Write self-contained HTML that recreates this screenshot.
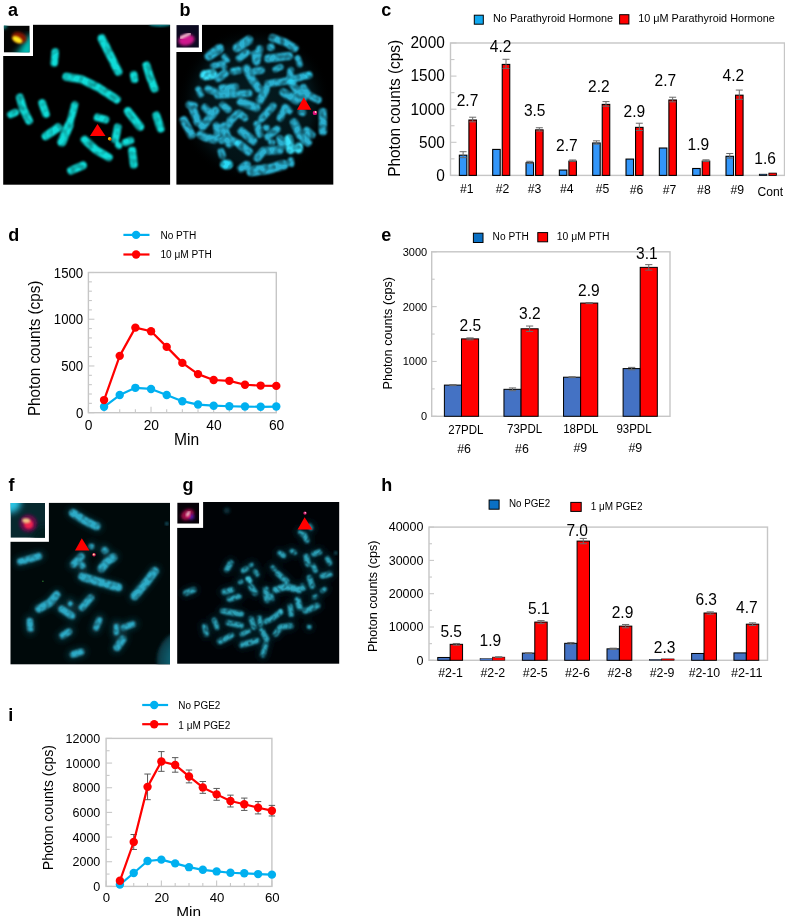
<!DOCTYPE html>
<html lang="en"><head><meta charset="utf-8"><title>Figure</title>
<style>
html,body{margin:0;padding:0;background:#fff;}
body{width:785px;height:916px;overflow:hidden;}
svg{display:block;font-family:"Liberation Sans", sans-serif;}
text{font-family:"Liberation Sans", sans-serif;}
</style></head><body>
<svg width="785" height="916" viewBox="0 0 785 916">
<rect width="785" height="916" fill="#fff"/>
<defs>
<filter id="b05" x="-50%" y="-50%" width="200%" height="200%"><feGaussianBlur stdDeviation="0.5"/></filter>
<filter id="ta" x="-5%" y="-5%" width="110%" height="110%" color-interpolation-filters="sRGB"><feGaussianBlur in="SourceGraphic" stdDeviation="1.15" result="bl"/><feTurbulence type="fractalNoise" baseFrequency="0.17" numOctaves="1" seed="2" result="n"/><feColorMatrix in="n" type="matrix" values="0 0 0 0 1  0 0 0 0 1  0 0 0 0 1  0.8 0 0 0 0.52" result="na"/><feComposite in="bl" in2="na" operator="in"/></filter>
<filter id="tb" x="-5%" y="-5%" width="110%" height="110%" color-interpolation-filters="sRGB"><feGaussianBlur in="SourceGraphic" stdDeviation="1.25" result="bl"/><feTurbulence type="fractalNoise" baseFrequency="0.2" numOctaves="1" seed="5" result="n"/><feColorMatrix in="n" type="matrix" values="0 0 0 0 1  0 0 0 0 1  0 0 0 0 1  1.2 0 0 0 0.3" result="na"/><feComposite in="bl" in2="na" operator="in"/></filter>
<filter id="tf" x="-5%" y="-5%" width="110%" height="110%" color-interpolation-filters="sRGB"><feGaussianBlur in="SourceGraphic" stdDeviation="1.0" result="bl"/><feTurbulence type="fractalNoise" baseFrequency="0.22" numOctaves="1" seed="7" result="n"/><feColorMatrix in="n" type="matrix" values="0 0 0 0 1  0 0 0 0 1  0 0 0 0 1  1.2 0 0 0 0.32" result="na"/><feComposite in="bl" in2="na" operator="in"/></filter>
<filter id="tg" x="-5%" y="-5%" width="110%" height="110%" color-interpolation-filters="sRGB"><feGaussianBlur in="SourceGraphic" stdDeviation="1.1" result="bl"/><feTurbulence type="fractalNoise" baseFrequency="0.24" numOctaves="1" seed="11" result="n"/><feColorMatrix in="n" type="matrix" values="0 0 0 0 1  0 0 0 0 1  0 0 0 0 1  1.6 0 0 0 0.12" result="na"/><feComposite in="bl" in2="na" operator="in"/></filter>
<filter id="b12" x="-5%" y="-5%" width="110%" height="110%"><feGaussianBlur stdDeviation="1.15"/></filter>
<filter id="b1" x="-5%" y="-5%" width="110%" height="110%"><feGaussianBlur stdDeviation="0.9"/></filter>
<filter id="b3" x="-10%" y="-10%" width="120%" height="120%"><feGaussianBlur stdDeviation="3"/></filter>
<filter id="b2" x="-30%" y="-30%" width="160%" height="160%"><feGaussianBlur stdDeviation="1.4"/></filter>
<radialGradient id="hazeb"><stop offset="0" stop-color="#083038" stop-opacity="0.6"/><stop offset="0.75" stop-color="#06262e" stop-opacity="0.5"/><stop offset="1" stop-color="#000" stop-opacity="0"/></radialGradient>
<radialGradient id="hazef"><stop offset="0" stop-color="#167488"/><stop offset="0.6" stop-color="#115a6a"/><stop offset="0.9" stop-color="#0c3e4a"/><stop offset="1" stop-color="#082830"/></radialGradient>
<radialGradient id="hazeg"><stop offset="0" stop-color="#082830" stop-opacity="0.7"/><stop offset="0.7" stop-color="#062028" stop-opacity="0.5"/><stop offset="1" stop-color="#000" stop-opacity="0"/></radialGradient>
</defs>
<clipPath id="cpa"><rect x="3.2" y="24.8" width="166.9" height="159.9"/></clipPath>
<rect x="3.2" y="24.8" width="166.9" height="159.9" fill="#000"/>
<g clip-path="url(#cpa)">
<g filter="url(#ta)">
<path d="M101.7 38.3 L110.0 55.0 L118.3 71.7" fill="none" stroke="#10dcd8" stroke-width="8.3" stroke-linecap="round" stroke-linejoin="round"/>
<path d="M55.2 52.1 L54.3 63.0" fill="none" stroke="#10dcd8" stroke-width="7.5" stroke-linecap="round" stroke-linejoin="round"/>
<path d="M66.4 76.8 L81.6 79.4 L98.4 87.7 L116.7 99.4" fill="none" stroke="#10dcd8" stroke-width="8.1" stroke-linecap="round" stroke-linejoin="round"/>
<path d="M133.7 74.9 L134.5 79.1" fill="none" stroke="#10dcd8" stroke-width="7.7" stroke-linecap="round" stroke-linejoin="round"/>
<path d="M146.4 65.4 L150.0 77.0 L154.5 88.6" fill="none" stroke="#10dcd8" stroke-width="7.9" stroke-linecap="round" stroke-linejoin="round"/>
<path d="M19.9 97.5 L23.2 109.1 L29.0 120.7" fill="none" stroke="#10dcd8" stroke-width="7.9" stroke-linecap="round" stroke-linejoin="round"/>
<path d="M10.6 114.8 L15.4 112.5" fill="none" stroke="#10dcd8" stroke-width="7.1000000000000005" stroke-linecap="round" stroke-linejoin="round"/>
<path d="M42.2 103.0 L45.9 114.1" fill="none" stroke="#10dcd8" stroke-width="7.7" stroke-linecap="round" stroke-linejoin="round"/>
<path d="M74.7 104.9 L70.0 122.5" fill="none" stroke="#10dcd8" stroke-width="7.300000000000001" stroke-linecap="round" stroke-linejoin="round"/>
<path d="M69.0 125.3 L61.8 142.0" fill="none" stroke="#10dcd8" stroke-width="9.1" stroke-linecap="round" stroke-linejoin="round"/>
<path d="M45.7 136.1 L58.2 127.5" fill="none" stroke="#10dcd8" stroke-width="8.3" stroke-linecap="round" stroke-linejoin="round"/>
<path d="M97.4 117.4 L105.6 119.6" fill="none" stroke="#10dcd8" stroke-width="7.5" stroke-linecap="round" stroke-linejoin="round"/>
<path d="M127.9 111.2 L140.1 126.8" fill="none" stroke="#10dcd8" stroke-width="8.3" stroke-linecap="round" stroke-linejoin="round"/>
<path d="M156.4 115.4 L160.6 128.6" fill="none" stroke="#10dcd8" stroke-width="7.9" stroke-linecap="round" stroke-linejoin="round"/>
<path d="M117.7 127.5 L115.3 139.5" fill="none" stroke="#10dcd8" stroke-width="7.7" stroke-linecap="round" stroke-linejoin="round"/>
<path d="M84.6 139.7 L96.0 150.0 L108.7 157.3" fill="none" stroke="#10dcd8" stroke-width="7.9" stroke-linecap="round" stroke-linejoin="round"/>
<path d="M125.4 142.5 L130.6 140.5" fill="none" stroke="#10dcd8" stroke-width="7.300000000000001" stroke-linecap="round" stroke-linejoin="round"/>
<path d="M132.2 150.5 L133.8 164.5" fill="none" stroke="#10dcd8" stroke-width="7.9" stroke-linecap="round" stroke-linejoin="round"/>
<path d="M71.0 170.6 L83.0 165.3" fill="none" stroke="#10dcd8" stroke-width="7.9" stroke-linecap="round" stroke-linejoin="round"/>
<path d="M118.1 145.1 L118.9 145.9" fill="none" stroke="#10dcd8" stroke-width="6.4" stroke-linecap="round" stroke-linejoin="round"/>
</g>
<ellipse cx="160" cy="24.2" rx="11" ry="2.6" fill="#0a8890" filter="url(#b1)"/>
<g filter="url(#b05)"><circle cx="109.6" cy="138.8" r="1.7" fill="#ffb400"/><circle cx="110.6" cy="139.4" r="1" fill="#e04800"/></g>
<polygon points="97.5,124.0 90.0,136.0 105.5,136.0" fill="#ff0000"/>
</g>
<rect x="2.00" y="23.00" width="31.00" height="33.00" fill="#fff"/>
<clipPath id="cpia"><rect x="3.8" y="25.6" width="25.9" height="27.0"/></clipPath>
<g clip-path="url(#cpia)"><rect x="3.8" y="25.6" width="25.9" height="27.0" fill="#040504"/>
<g filter="url(#b3)"><path d="M33 34 L33 56 L12 56 Q23 50 26 37 Z" fill="#00c8c0"/></g>
<g filter="url(#b2)"><circle cx="4" cy="26" r="3.2" fill="#0a7070"/><ellipse cx="19.3" cy="37.6" rx="7.6" ry="5.2" fill="#8a1600" transform="rotate(20 19.3 37.6)"/></g>
<g filter="url(#b1)"><ellipse cx="17.3" cy="39.7" rx="5.4" ry="3.0" fill="#ffe81c" transform="rotate(27 17.3 39.7)"/></g></g>
<text x="8.00" y="16.00" font-size="18" text-anchor="start" font-weight="bold">a</text>
<clipPath id="cpb"><rect x="176.4" y="24.9" width="156.9" height="159.7"/></clipPath>
<rect x="176.4" y="24.9" width="156.9" height="159.7" fill="#000"/>
<g clip-path="url(#cpb)">
<circle cx="254" cy="104" r="78" fill="url(#hazeb)"/>
<g filter="url(#tb)">
<path d="M272.4 37.9 L285.3 42.4 L294.8 48.3" fill="none" stroke="#2ab0d0" stroke-width="7.5" stroke-linecap="round" stroke-linejoin="round"/>
<path d="M270.8 47.3 L270.9 47.3" fill="none" stroke="#2ab0d0" stroke-width="7.5" stroke-linecap="round" stroke-linejoin="round"/>
<path d="M268.2 58.5 L288.9 56.0" fill="none" stroke="#2ab0d0" stroke-width="8.0" stroke-linecap="round" stroke-linejoin="round"/>
<path d="M297.6 58.1 L299.8 64.2" fill="none" stroke="#2ab0d0" stroke-width="6.0" stroke-linecap="round" stroke-linejoin="round"/>
<path d="M259.6 48.7 L256.7 62.1" fill="none" stroke="#2ab0d0" stroke-width="7.0" stroke-linecap="round" stroke-linejoin="round"/>
<path d="M290.9 81.5 L298.9 94.1 L302.7 98.8" fill="none" stroke="#2ab0d0" stroke-width="7.5" stroke-linecap="round" stroke-linejoin="round"/>
<path d="M303.4 87.3 L308.3 95.1 L318.3 100.0" fill="none" stroke="#2ab0d0" stroke-width="7.0" stroke-linecap="round" stroke-linejoin="round"/>
<path d="M192.0 106.7 L197.8 122.2" fill="none" stroke="#2ab0d0" stroke-width="8.0" stroke-linecap="round" stroke-linejoin="round"/>
<path d="M183.7 120.2 L191.5 134.8" fill="none" stroke="#2ab0d0" stroke-width="8.0" stroke-linecap="round" stroke-linejoin="round"/>
<path d="M204.7 107.5 L212.3 115.1" fill="none" stroke="#2ab0d0" stroke-width="7.0" stroke-linecap="round" stroke-linejoin="round"/>
<path d="M215.4 110.8 L202.6 126.5" fill="none" stroke="#2ab0d0" stroke-width="8.0" stroke-linecap="round" stroke-linejoin="round"/>
<path d="M216.4 125.5 L217.8 133.7" fill="none" stroke="#2ab0d0" stroke-width="7.0" stroke-linecap="round" stroke-linejoin="round"/>
<path d="M200.6 134.6 L205.3 137.4 L214.1 139.4" fill="none" stroke="#2ab0d0" stroke-width="8.0" stroke-linecap="round" stroke-linejoin="round"/>
<path d="M239.3 144.1 L248.7 151.7" fill="none" stroke="#2ab0d0" stroke-width="8.0" stroke-linecap="round" stroke-linejoin="round"/>
<path d="M221.2 151.6 L222.4 155.6" fill="none" stroke="#2ab0d0" stroke-width="7.0" stroke-linecap="round" stroke-linejoin="round"/>
<path d="M241.4 168.5 L246.6 164.9" fill="none" stroke="#2ab0d0" stroke-width="8.0" stroke-linecap="round" stroke-linejoin="round"/>
<path d="M250.9 171.8 L255.4 171.0" fill="none" stroke="#2ab0d0" stroke-width="9.0" stroke-linecap="round" stroke-linejoin="round"/>
<path d="M322.9 111.9 L322.9 131.6" fill="none" stroke="#2ab0d0" stroke-width="8.0" stroke-linecap="round" stroke-linejoin="round"/>
<path d="M294.0 122.3 L300.0 135.3 L307.9 142.3" fill="none" stroke="#2ab0d0" stroke-width="8.0" stroke-linecap="round" stroke-linejoin="round"/>
<path d="M306.7 130.5 L312.0 134.9" fill="none" stroke="#2ab0d0" stroke-width="7.0" stroke-linecap="round" stroke-linejoin="round"/>
<path d="M298.9 146.4 L298.9 149.4" fill="none" stroke="#38e0fa" stroke-width="8.0" stroke-linecap="round" stroke-linejoin="round"/>
<path d="M301.5 112.1 L302.6 112.6" fill="none" stroke="#2ab0d0" stroke-width="7.0" stroke-linecap="round" stroke-linejoin="round"/>
<path d="M257.5 157.8 L263.4 151.0 L279.5 150.0" fill="none" stroke="#2ab0d0" stroke-width="8.0" stroke-linecap="round" stroke-linejoin="round"/>
<path d="M254.6 170.8 L269.7 168.8 L283.7 164.8" fill="none" stroke="#2ab0d0" stroke-width="10.0" stroke-linecap="round" stroke-linejoin="round"/>
<path d="M290.7 160.0 L291.5 164.0" fill="none" stroke="#2ab0d0" stroke-width="6.0" stroke-linecap="round" stroke-linejoin="round"/>
<path d="M237.2 47.8 L248.7 40.1" fill="none" stroke="#2ab0d0" stroke-width="9.0" stroke-linecap="round" stroke-linejoin="round"/>
<path d="M239.3 58.2 L246.6 52.7" fill="none" stroke="#2ab0d0" stroke-width="7.0" stroke-linecap="round" stroke-linejoin="round"/>
<path d="M209.0 56.1 L219.5 48.5" fill="none" stroke="#2ab0d0" stroke-width="9.0" stroke-linecap="round" stroke-linejoin="round"/>
<path d="M224.5 57.0 L226.9 60.2" fill="none" stroke="#2ab0d0" stroke-width="6.0" stroke-linecap="round" stroke-linejoin="round"/>
<path d="M213.3 65.8 L223.1 63.8 L223.9 66.3" fill="none" stroke="#2ab0d0" stroke-width="6.0" stroke-linecap="round" stroke-linejoin="round"/>
<path d="M204.9 75.2 L212.1 74.3" fill="none" stroke="#38e0fa" stroke-width="10.0" stroke-linecap="round" stroke-linejoin="round"/>
<path d="M198.3 89.4 L200.9 94.6" fill="none" stroke="#2ab0d0" stroke-width="6.0" stroke-linecap="round" stroke-linejoin="round"/>
<path d="M208.0 89.1 L215.2 91.8" fill="none" stroke="#2ab0d0" stroke-width="7.0" stroke-linecap="round" stroke-linejoin="round"/>
<path d="M189.2 104.6 L194.3 105.9" fill="none" stroke="#2ab0d0" stroke-width="7.0" stroke-linecap="round" stroke-linejoin="round"/>
<path d="M254.5 53.9 L255.9 61.1" fill="none" stroke="#2ab0d0" stroke-width="7.0" stroke-linecap="round" stroke-linejoin="round"/>
<path d="M246.6 68.6 L251.6 78.6 L258.6 88.5" fill="none" stroke="#2ab0d0" stroke-width="8.0" stroke-linecap="round" stroke-linejoin="round"/>
<path d="M255.3 71.2 L261.4 70.3" fill="none" stroke="#2ab0d0" stroke-width="7.0" stroke-linecap="round" stroke-linejoin="round"/>
<path d="M233.4 71.2 L238.4 70.3" fill="none" stroke="#2ab0d0" stroke-width="7.0" stroke-linecap="round" stroke-linejoin="round"/>
<path d="M267.8 83.7 L287.5 80.8" fill="none" stroke="#2ab0d0" stroke-width="7.0" stroke-linecap="round" stroke-linejoin="round"/>
<path d="M265.9 89.5 L260.2 100.0" fill="none" stroke="#2ab0d0" stroke-width="8.0" stroke-linecap="round" stroke-linejoin="round"/>
<path d="M221.9 88.0 L235.3 86.9" fill="none" stroke="#2ab0d0" stroke-width="7.0" stroke-linecap="round" stroke-linejoin="round"/>
<path d="M217.7 95.3 L248.9 93.2" fill="none" stroke="#2ab0d0" stroke-width="7.0" stroke-linecap="round" stroke-linejoin="round"/>
<path d="M283.4 92.5 L296.5 100.2" fill="none" stroke="#2ab0d0" stroke-width="8.0" stroke-linecap="round" stroke-linejoin="round"/>
<path d="M240.7 101.8 L256.2 107.6" fill="none" stroke="#2ab0d0" stroke-width="8.0" stroke-linecap="round" stroke-linejoin="round"/>
<path d="M222.8 105.1 L228.1 109.5" fill="none" stroke="#2ab0d0" stroke-width="7.0" stroke-linecap="round" stroke-linejoin="round"/>
<path d="M239.5 113.5 L244.8 117.9" fill="none" stroke="#2ab0d0" stroke-width="7.0" stroke-linecap="round" stroke-linejoin="round"/>
<path d="M230.5 119.9 L228.8 125.0" fill="none" stroke="#2ab0d0" stroke-width="7.0" stroke-linecap="round" stroke-linejoin="round"/>
<path d="M273.1 106.1 L261.4 118.9" fill="none" stroke="#2ab0d0" stroke-width="7.0" stroke-linecap="round" stroke-linejoin="round"/>
<path d="M285.7 107.3 L280.1 117.8" fill="none" stroke="#2ab0d0" stroke-width="7.0" stroke-linecap="round" stroke-linejoin="round"/>
<path d="M257.0 124.1 L259.7 134.4" fill="none" stroke="#2ab0d0" stroke-width="7.0" stroke-linecap="round" stroke-linejoin="round"/>
<path d="M266.3 127.8 L266.3 127.8" fill="none" stroke="#2ab0d0" stroke-width="6.5" stroke-linecap="round" stroke-linejoin="round"/>
<path d="M277.2 129.1 L267.7 136.7" fill="none" stroke="#2ab0d0" stroke-width="7.0" stroke-linecap="round" stroke-linejoin="round"/>
<path d="M241.6 131.2 L253.2 140.9" fill="none" stroke="#2ab0d0" stroke-width="8.0" stroke-linecap="round" stroke-linejoin="round"/>
<path d="M223.6 126.2 L229.4 143.8" fill="none" stroke="#2ab0d0" stroke-width="8.0" stroke-linecap="round" stroke-linejoin="round"/>
<path d="M288.7 138.7 L290.5 149.9" fill="none" stroke="#38e0fa" stroke-width="8.5" stroke-linecap="round" stroke-linejoin="round"/>
<path d="M279.9 138.7 L281.8 145.9" fill="none" stroke="#2ab0d0" stroke-width="7.0" stroke-linecap="round" stroke-linejoin="round"/>
<path d="M275.5 69.3 L280.6 67.1" fill="none" stroke="#2ab0d0" stroke-width="6.0" stroke-linecap="round" stroke-linejoin="round"/>
<path d="M290.6 70.6 L290.0 77.8" fill="none" stroke="#2ab0d0" stroke-width="6.5" stroke-linecap="round" stroke-linejoin="round"/>
<path d="M288.7 80.5 L308.8 75.0" fill="none" stroke="#2ab0d0" stroke-width="7.5" stroke-linecap="round" stroke-linejoin="round"/>
<path d="M237.1 113.9 L231.9 119.6" fill="none" stroke="#2ab0d0" stroke-width="7.0" stroke-linecap="round" stroke-linejoin="round"/>
<path d="M221.6 140.4 L228.3 138.5 L238.3 143.4" fill="none" stroke="#2ab0d0" stroke-width="7.0" stroke-linecap="round" stroke-linejoin="round"/>
<path d="M271.2 141.9 L272.3 142.4" fill="none" stroke="#2ab0d0" stroke-width="6.0" stroke-linecap="round" stroke-linejoin="round"/>
<path d="M218.4 78.1 L224.7 73.5" fill="none" stroke="#2ab0d0" stroke-width="8.0" stroke-linecap="round" stroke-linejoin="round"/>
<path d="M284.8 107.5 L289.0 110.9" fill="none" stroke="#2ab0d0" stroke-width="7.0" stroke-linecap="round" stroke-linejoin="round"/>
<ellipse cx="226.5" cy="164.6" rx="6.5" ry="5" fill="#28d8f4"/>
<circle cx="235.5" cy="70" r="2" fill="#30e0ff"/><circle cx="278" cy="68" r="2" fill="#30e0ff"/><circle cx="308" cy="75" r="3" fill="#28c8e8"/><circle cx="291" cy="81" r="3" fill="#28d0f0"/><circle cx="237" cy="143" r="2.2" fill="#30e0ff"/>
</g>
<g filter="url(#b05)"><circle cx="314.9" cy="112.9" r="2.2" fill="#e0107a"/><circle cx="315.6" cy="112" r="0.9" fill="#ffd0c0"/></g>
<polygon points="303.8,97.3 297.0,109.8 311.4,109.8" fill="#ff0000"/>
</g>
<rect x="175.00" y="23.00" width="27.00" height="29.00" fill="#fff"/>
<clipPath id="cpib"><rect x="176.3" y="25.1" width="22.6" height="22.6"/></clipPath>
<g clip-path="url(#cpib)"><rect x="176.3" y="25.1" width="22.6" height="22.6" fill="#0c0a20"/>
<g filter="url(#b2)"><ellipse cx="186.5" cy="40" rx="8.2" ry="5.4" fill="#d0128e" transform="rotate(-12 186.5 40)"/></g>
<g filter="url(#b1)"><path d="M180.6 37.8 L190.4 33.4" stroke="#ffd0dc" stroke-width="2.6" stroke-linecap="round"/></g></g>
<text x="179.40" y="16.00" font-size="18" text-anchor="start" font-weight="bold">b</text>
<rect x="450.50" y="43.00" width="334.00" height="132.40" fill="#fff" stroke="#c6c6c6" stroke-width="1.4"/>
<line x1="450.50" y1="175.40" x2="456.50" y2="175.40" stroke="#c8c8c8" stroke-width="1.1"/>
<line x1="450.50" y1="158.85" x2="454.50" y2="158.85" stroke="#c8c8c8" stroke-width="1.1"/>
<line x1="450.50" y1="142.30" x2="456.50" y2="142.30" stroke="#c8c8c8" stroke-width="1.1"/>
<line x1="450.50" y1="125.75" x2="454.50" y2="125.75" stroke="#c8c8c8" stroke-width="1.1"/>
<line x1="450.50" y1="109.20" x2="456.50" y2="109.20" stroke="#c8c8c8" stroke-width="1.1"/>
<line x1="450.50" y1="92.65" x2="454.50" y2="92.65" stroke="#c8c8c8" stroke-width="1.1"/>
<line x1="450.50" y1="76.10" x2="456.50" y2="76.10" stroke="#c8c8c8" stroke-width="1.1"/>
<line x1="450.50" y1="59.55" x2="454.50" y2="59.55" stroke="#c8c8c8" stroke-width="1.1"/>
<line x1="450.50" y1="43.00" x2="456.50" y2="43.00" stroke="#c8c8c8" stroke-width="1.1"/>
<text x="444.80" y="180.70" font-size="16.32" text-anchor="end" textLength="8.6" lengthAdjust="spacingAndGlyphs">0</text>
<text x="444.80" y="147.60" font-size="16.32" text-anchor="end" textLength="25.7" lengthAdjust="spacingAndGlyphs">500</text>
<text x="444.80" y="114.50" font-size="16.32" text-anchor="end" textLength="34.3" lengthAdjust="spacingAndGlyphs">1000</text>
<text x="444.80" y="81.40" font-size="16.32" text-anchor="end" textLength="34.3" lengthAdjust="spacingAndGlyphs">1500</text>
<text x="444.80" y="48.30" font-size="16.32" text-anchor="end" textLength="34.3" lengthAdjust="spacingAndGlyphs">2000</text>
<text x="399.60" y="108.30" font-size="16.6" text-anchor="middle" textLength="137.0" lengthAdjust="spacingAndGlyphs" transform="rotate(-90 399.60 108.30)">Photon counts (cps)</text>
<rect x="459.37" y="155.18" width="7.50" height="20.22" fill="#3296fa" stroke="#000" stroke-width="1.1"/>
<rect x="468.92" y="120.03" width="7.50" height="55.37" fill="#ff0000" stroke="#000" stroke-width="1.1"/>
<path d="M463.12 151.70V157.66M459.62 151.70H466.62M459.62 157.66H466.62" stroke="#6a6a6a" stroke-width="1.0" fill="none"/>
<path d="M472.67 117.21V121.84M469.17 117.21H476.17M469.17 121.84H476.17" stroke="#6a6a6a" stroke-width="1.0" fill="none"/>
<text x="467.50" y="106.10" font-size="17" text-anchor="middle" textLength="21.6" lengthAdjust="spacingAndGlyphs">2.7</text>
<text x="466.70" y="193.40" font-size="12.8" text-anchor="middle" textLength="13.6" lengthAdjust="spacingAndGlyphs">#1</text>
<rect x="492.69" y="149.42" width="7.50" height="25.98" fill="#3296fa" stroke="#000" stroke-width="1.1"/>
<rect x="502.25" y="64.42" width="7.50" height="110.98" fill="#ff0000" stroke="#000" stroke-width="1.1"/>
<path d="M506.00 59.29V68.55M502.50 59.29H509.50M502.50 68.55H509.50" stroke="#6a6a6a" stroke-width="1.0" fill="none"/>
<text x="500.60" y="52.20" font-size="17" text-anchor="middle" textLength="21.6" lengthAdjust="spacingAndGlyphs">4.2</text>
<text x="502.50" y="192.50" font-size="12.8" text-anchor="middle" textLength="13.6" lengthAdjust="spacingAndGlyphs">#2</text>
<rect x="526.03" y="162.79" width="7.50" height="12.61" fill="#3296fa" stroke="#000" stroke-width="1.1"/>
<rect x="535.58" y="129.89" width="7.50" height="45.51" fill="#ff0000" stroke="#000" stroke-width="1.1"/>
<path d="M529.78 161.30V163.29M526.28 161.30H533.28M526.28 163.29H533.28" stroke="#6a6a6a" stroke-width="1.0" fill="none"/>
<path d="M539.33 127.74V131.05M535.83 127.74H542.83M535.83 131.05H542.83" stroke="#6a6a6a" stroke-width="1.0" fill="none"/>
<text x="534.70" y="116.00" font-size="17" text-anchor="middle" textLength="21.6" lengthAdjust="spacingAndGlyphs">3.5</text>
<text x="534.60" y="192.50" font-size="12.8" text-anchor="middle" textLength="13.6" lengthAdjust="spacingAndGlyphs">#3</text>
<rect x="559.36" y="170.07" width="7.50" height="5.33" fill="#3296fa" stroke="#000" stroke-width="1.1"/>
<rect x="568.90" y="161.14" width="7.50" height="14.26" fill="#ff0000" stroke="#000" stroke-width="1.1"/>
<path d="M572.65 159.98V161.30M569.15 159.98H576.15M569.15 161.30H576.15" stroke="#6a6a6a" stroke-width="1.0" fill="none"/>
<text x="566.80" y="150.80" font-size="17" text-anchor="middle" textLength="21.6" lengthAdjust="spacingAndGlyphs">2.7</text>
<text x="566.70" y="192.50" font-size="12.8" text-anchor="middle" textLength="13.6" lengthAdjust="spacingAndGlyphs">#4</text>
<rect x="592.69" y="143.00" width="7.50" height="32.40" fill="#3296fa" stroke="#000" stroke-width="1.1"/>
<rect x="602.24" y="104.40" width="7.50" height="71.00" fill="#ff0000" stroke="#000" stroke-width="1.1"/>
<path d="M596.44 140.84V144.15M592.94 140.84H599.94M592.94 144.15H599.94" stroke="#6a6a6a" stroke-width="1.0" fill="none"/>
<path d="M605.99 101.59V106.22M602.49 101.59H609.49M602.49 106.22H609.49" stroke="#6a6a6a" stroke-width="1.0" fill="none"/>
<text x="598.90" y="91.50" font-size="17" text-anchor="middle" textLength="21.6" lengthAdjust="spacingAndGlyphs">2.2</text>
<text x="602.60" y="193.40" font-size="12.8" text-anchor="middle" textLength="13.6" lengthAdjust="spacingAndGlyphs">#5</text>
<rect x="626.02" y="159.09" width="7.50" height="16.31" fill="#3296fa" stroke="#000" stroke-width="1.1"/>
<rect x="635.57" y="127.38" width="7.50" height="48.02" fill="#ff0000" stroke="#000" stroke-width="1.1"/>
<path d="M639.32 123.23V130.52M635.82 123.23H642.82M635.82 130.52H642.82" stroke="#6a6a6a" stroke-width="1.0" fill="none"/>
<text x="634.40" y="117.40" font-size="17" text-anchor="middle" textLength="21.6" lengthAdjust="spacingAndGlyphs">2.9</text>
<text x="636.60" y="193.50" font-size="12.8" text-anchor="middle" textLength="13.6" lengthAdjust="spacingAndGlyphs">#6</text>
<rect x="659.35" y="148.03" width="7.50" height="27.37" fill="#3296fa" stroke="#000" stroke-width="1.1"/>
<rect x="668.89" y="100.03" width="7.50" height="75.37" fill="#ff0000" stroke="#000" stroke-width="1.1"/>
<path d="M672.64 97.22V101.85M669.14 97.22H676.14M669.14 101.85H676.14" stroke="#6a6a6a" stroke-width="1.0" fill="none"/>
<text x="665.30" y="86.40" font-size="17" text-anchor="middle" textLength="21.6" lengthAdjust="spacingAndGlyphs">2.7</text>
<text x="669.50" y="193.50" font-size="12.8" text-anchor="middle" textLength="13.6" lengthAdjust="spacingAndGlyphs">#7</text>
<rect x="692.68" y="168.49" width="7.50" height="6.91" fill="#3296fa" stroke="#000" stroke-width="1.1"/>
<rect x="702.23" y="161.14" width="7.50" height="14.26" fill="#ff0000" stroke="#000" stroke-width="1.1"/>
<path d="M705.98 159.84V161.43M702.48 159.84H709.48M702.48 161.43H709.48" stroke="#6a6a6a" stroke-width="1.0" fill="none"/>
<text x="698.30" y="149.70" font-size="17" text-anchor="middle" textLength="21.6" lengthAdjust="spacingAndGlyphs">1.9</text>
<text x="703.90" y="193.50" font-size="12.8" text-anchor="middle" textLength="13.6" lengthAdjust="spacingAndGlyphs">#8</text>
<rect x="726.01" y="156.30" width="7.50" height="19.10" fill="#3296fa" stroke="#000" stroke-width="1.1"/>
<rect x="735.56" y="95.20" width="7.50" height="80.20" fill="#ff0000" stroke="#000" stroke-width="1.1"/>
<path d="M729.76 153.49V158.12M726.26 153.49H733.26M726.26 158.12H733.26" stroke="#6a6a6a" stroke-width="1.0" fill="none"/>
<path d="M739.31 90.07V99.34M735.81 90.07H742.81M735.81 99.34H742.81" stroke="#6a6a6a" stroke-width="1.0" fill="none"/>
<text x="733.40" y="80.90" font-size="17" text-anchor="middle" textLength="21.6" lengthAdjust="spacingAndGlyphs">4.2</text>
<text x="737.30" y="193.60" font-size="12.8" text-anchor="middle" textLength="13.6" lengthAdjust="spacingAndGlyphs">#9</text>
<rect x="759.34" y="174.25" width="7.50" height="1.16" fill="#3296fa" stroke="#000" stroke-width="0.8"/>
<rect x="768.88" y="173.12" width="7.50" height="2.28" fill="#ff0000" stroke="#000" stroke-width="0.8"/>
<text x="765.10" y="163.70" font-size="17" text-anchor="middle" textLength="21.6" lengthAdjust="spacingAndGlyphs">1.6</text>
<text x="770.30" y="195.80" font-size="12.5" text-anchor="middle" textLength="25.5" lengthAdjust="spacingAndGlyphs">Cont</text>
<rect x="474.30" y="15.20" width="9.00" height="9.00" fill="#10a8f0" stroke="#000" stroke-width="1.0"/>
<text x="493.00" y="22.30" font-size="11.3" text-anchor="start" textLength="120.0" lengthAdjust="spacingAndGlyphs">No Parathyroid Hormone</text>
<rect x="619.60" y="14.70" width="9.30" height="9.30" fill="#ff0000" stroke="#000" stroke-width="1.0"/>
<text x="638.20" y="22.30" font-size="11.3" text-anchor="start" textLength="136.6" lengthAdjust="spacingAndGlyphs">10 μM Parathyroid Hormone</text>
<text x="381.30" y="16.10" font-size="18" text-anchor="start" font-weight="bold">c</text>
<rect x="88.40" y="272.50" width="187.90" height="140.20" fill="#fff" stroke="#c6c6c6" stroke-width="1.4"/>
<line x1="88.40" y1="412.70" x2="94.40" y2="412.70" stroke="#c8c8c8" stroke-width="1.1"/>
<line x1="88.40" y1="403.35" x2="91.90" y2="403.35" stroke="#c8c8c8" stroke-width="1.1"/>
<line x1="88.40" y1="394.01" x2="91.90" y2="394.01" stroke="#c8c8c8" stroke-width="1.1"/>
<line x1="88.40" y1="384.66" x2="91.90" y2="384.66" stroke="#c8c8c8" stroke-width="1.1"/>
<line x1="88.40" y1="375.31" x2="91.90" y2="375.31" stroke="#c8c8c8" stroke-width="1.1"/>
<line x1="88.40" y1="365.97" x2="94.40" y2="365.97" stroke="#c8c8c8" stroke-width="1.1"/>
<line x1="88.40" y1="356.62" x2="91.90" y2="356.62" stroke="#c8c8c8" stroke-width="1.1"/>
<line x1="88.40" y1="347.27" x2="91.90" y2="347.27" stroke="#c8c8c8" stroke-width="1.1"/>
<line x1="88.40" y1="337.93" x2="91.90" y2="337.93" stroke="#c8c8c8" stroke-width="1.1"/>
<line x1="88.40" y1="328.58" x2="91.90" y2="328.58" stroke="#c8c8c8" stroke-width="1.1"/>
<line x1="88.40" y1="319.23" x2="94.40" y2="319.23" stroke="#c8c8c8" stroke-width="1.1"/>
<line x1="88.40" y1="309.89" x2="91.90" y2="309.89" stroke="#c8c8c8" stroke-width="1.1"/>
<line x1="88.40" y1="300.54" x2="91.90" y2="300.54" stroke="#c8c8c8" stroke-width="1.1"/>
<line x1="88.40" y1="291.19" x2="91.90" y2="291.19" stroke="#c8c8c8" stroke-width="1.1"/>
<line x1="88.40" y1="281.85" x2="91.90" y2="281.85" stroke="#c8c8c8" stroke-width="1.1"/>
<line x1="88.40" y1="272.50" x2="94.40" y2="272.50" stroke="#c8c8c8" stroke-width="1.1"/>
<line x1="88.40" y1="412.70" x2="88.40" y2="406.70" stroke="#c8c8c8" stroke-width="1.1"/>
<line x1="104.06" y1="412.70" x2="104.06" y2="409.20" stroke="#c8c8c8" stroke-width="1.1"/>
<line x1="119.72" y1="412.70" x2="119.72" y2="409.20" stroke="#c8c8c8" stroke-width="1.1"/>
<line x1="135.38" y1="412.70" x2="135.38" y2="409.20" stroke="#c8c8c8" stroke-width="1.1"/>
<line x1="151.03" y1="412.70" x2="151.03" y2="406.70" stroke="#c8c8c8" stroke-width="1.1"/>
<line x1="166.69" y1="412.70" x2="166.69" y2="409.20" stroke="#c8c8c8" stroke-width="1.1"/>
<line x1="182.35" y1="412.70" x2="182.35" y2="409.20" stroke="#c8c8c8" stroke-width="1.1"/>
<line x1="198.01" y1="412.70" x2="198.01" y2="409.20" stroke="#c8c8c8" stroke-width="1.1"/>
<line x1="213.67" y1="412.70" x2="213.67" y2="406.70" stroke="#c8c8c8" stroke-width="1.1"/>
<line x1="229.33" y1="412.70" x2="229.33" y2="409.20" stroke="#c8c8c8" stroke-width="1.1"/>
<line x1="244.98" y1="412.70" x2="244.98" y2="409.20" stroke="#c8c8c8" stroke-width="1.1"/>
<line x1="260.64" y1="412.70" x2="260.64" y2="409.20" stroke="#c8c8c8" stroke-width="1.1"/>
<line x1="276.30" y1="412.70" x2="276.30" y2="406.70" stroke="#c8c8c8" stroke-width="1.1"/>
<polyline points="104.06,406.81 119.72,395.03 135.38,387.84 151.03,388.96 166.69,395.03 182.35,401.20 198.01,404.57 213.67,405.69 229.33,406.25 244.98,406.53 260.64,406.81 276.30,406.53" fill="none" stroke="#00b0f0" stroke-width="2.2" stroke-linejoin="round"/>
<circle cx="104.06" cy="406.81" r="4.2" fill="#00b0f0"/>
<circle cx="119.72" cy="395.03" r="4.2" fill="#00b0f0"/>
<circle cx="135.38" cy="387.84" r="4.2" fill="#00b0f0"/>
<circle cx="151.03" cy="388.96" r="4.2" fill="#00b0f0"/>
<circle cx="166.69" cy="395.03" r="4.2" fill="#00b0f0"/>
<circle cx="182.35" cy="401.20" r="4.2" fill="#00b0f0"/>
<circle cx="198.01" cy="404.57" r="4.2" fill="#00b0f0"/>
<circle cx="213.67" cy="405.69" r="4.2" fill="#00b0f0"/>
<circle cx="229.33" cy="406.25" r="4.2" fill="#00b0f0"/>
<circle cx="244.98" cy="406.53" r="4.2" fill="#00b0f0"/>
<circle cx="260.64" cy="406.81" r="4.2" fill="#00b0f0"/>
<circle cx="276.30" cy="406.53" r="4.2" fill="#00b0f0"/>
<polyline points="104.06,400.08 119.72,355.87 135.38,327.65 151.03,331.29 166.69,346.90 182.35,362.88 198.01,374.10 213.67,379.99 229.33,380.83 244.98,384.75 260.64,385.59 276.30,385.88" fill="none" stroke="#ff0000" stroke-width="2.2" stroke-linejoin="round"/>
<circle cx="104.06" cy="400.08" r="4.2" fill="#ff0000"/>
<circle cx="119.72" cy="355.87" r="4.2" fill="#ff0000"/>
<circle cx="135.38" cy="327.65" r="4.2" fill="#ff0000"/>
<circle cx="151.03" cy="331.29" r="4.2" fill="#ff0000"/>
<circle cx="166.69" cy="346.90" r="4.2" fill="#ff0000"/>
<circle cx="182.35" cy="362.88" r="4.2" fill="#ff0000"/>
<circle cx="198.01" cy="374.10" r="4.2" fill="#ff0000"/>
<circle cx="213.67" cy="379.99" r="4.2" fill="#ff0000"/>
<circle cx="229.33" cy="380.83" r="4.2" fill="#ff0000"/>
<circle cx="244.98" cy="384.75" r="4.2" fill="#ff0000"/>
<circle cx="260.64" cy="385.59" r="4.2" fill="#ff0000"/>
<circle cx="276.30" cy="385.88" r="4.2" fill="#ff0000"/>
<text x="83.20" y="417.80" font-size="14.39" text-anchor="end" textLength="7.3" lengthAdjust="spacingAndGlyphs">0</text>
<text x="83.20" y="371.07" font-size="14.39" text-anchor="end" textLength="22.0" lengthAdjust="spacingAndGlyphs">500</text>
<text x="83.20" y="324.33" font-size="14.39" text-anchor="end" textLength="29.4" lengthAdjust="spacingAndGlyphs">1000</text>
<text x="83.20" y="277.60" font-size="14.39" text-anchor="end" textLength="29.4" lengthAdjust="spacingAndGlyphs">1500</text>
<text x="88.70" y="429.70" font-size="13.8" text-anchor="middle">0</text>
<text x="151.33" y="429.70" font-size="13.8" text-anchor="middle">20</text>
<text x="213.97" y="429.70" font-size="13.8" text-anchor="middle">40</text>
<text x="276.60" y="429.70" font-size="13.8" text-anchor="middle">60</text>
<text x="186.50" y="445.00" font-size="15.6" text-anchor="middle">Min</text>
<text x="40.00" y="348.40" font-size="16.0" text-anchor="middle" textLength="135.4" lengthAdjust="spacingAndGlyphs" transform="rotate(-90 40.00 348.40)">Photon counts (cps)</text>
<line x1="123.40" y1="234.90" x2="149.50" y2="234.90" stroke="#00b0f0" stroke-width="2.2"/>
<circle cx="136.10" cy="234.90" r="4.2" fill="#00b0f0"/>
<text x="160.40" y="238.50" font-size="10" text-anchor="start" textLength="35.9" lengthAdjust="spacingAndGlyphs">No PTH</text>
<line x1="123.40" y1="254.50" x2="149.50" y2="254.50" stroke="#ff0000" stroke-width="2.2"/>
<circle cx="136.10" cy="254.50" r="4.2" fill="#ff0000"/>
<text x="160.40" y="258.40" font-size="10" text-anchor="start" textLength="51.3" lengthAdjust="spacingAndGlyphs">10 μM PTH</text>
<text x="8.20" y="240.90" font-size="18" text-anchor="start" font-weight="bold">d</text>
<rect x="431.70" y="251.80" width="238.30" height="164.50" fill="#fff" stroke="#c6c6c6" stroke-width="1.4"/>
<line x1="431.70" y1="416.30" x2="436.70" y2="416.30" stroke="#c8c8c8" stroke-width="1.1"/>
<line x1="431.70" y1="388.88" x2="434.70" y2="388.88" stroke="#c8c8c8" stroke-width="1.1"/>
<line x1="431.70" y1="361.47" x2="436.70" y2="361.47" stroke="#c8c8c8" stroke-width="1.1"/>
<line x1="431.70" y1="334.05" x2="434.70" y2="334.05" stroke="#c8c8c8" stroke-width="1.1"/>
<line x1="431.70" y1="306.63" x2="436.70" y2="306.63" stroke="#c8c8c8" stroke-width="1.1"/>
<line x1="431.70" y1="279.22" x2="434.70" y2="279.22" stroke="#c8c8c8" stroke-width="1.1"/>
<line x1="431.70" y1="251.80" x2="436.70" y2="251.80" stroke="#c8c8c8" stroke-width="1.1"/>
<text x="427.20" y="420.30" font-size="11.77" text-anchor="end" textLength="6.1" lengthAdjust="spacingAndGlyphs">0</text>
<text x="427.20" y="365.47" font-size="11.77" text-anchor="end" textLength="24.5" lengthAdjust="spacingAndGlyphs">1000</text>
<text x="427.20" y="310.63" font-size="11.77" text-anchor="end" textLength="24.5" lengthAdjust="spacingAndGlyphs">2000</text>
<text x="427.20" y="255.80" font-size="11.77" text-anchor="end" textLength="24.5" lengthAdjust="spacingAndGlyphs">3000</text>
<text x="391.60" y="333.20" font-size="12.6" text-anchor="middle" textLength="112.6" lengthAdjust="spacingAndGlyphs" transform="rotate(-90 391.60 333.20)">Photon counts (cps)</text>
<rect x="444.39" y="385.10" width="17.10" height="31.20" fill="#4472c4" stroke="#000" stroke-width="1.0"/>
<rect x="461.49" y="338.88" width="17.10" height="77.42" fill="#ff0000" stroke="#000" stroke-width="1.0"/>
<path d="M452.94 384.55V385.65M449.34 384.55H456.54M449.34 385.65H456.54" stroke="#6a6a6a" stroke-width="1.0" fill="none"/>
<path d="M470.04 337.89V339.86M466.44 337.89H473.64M466.44 339.86H473.64" stroke="#6a6a6a" stroke-width="1.0" fill="none"/>
<text x="470.30" y="331.40" font-size="17" text-anchor="middle" textLength="21.6" lengthAdjust="spacingAndGlyphs">2.5</text>
<text x="465.90" y="433.80" font-size="12" text-anchor="middle" textLength="35.2" lengthAdjust="spacingAndGlyphs">27PDL</text>
<text x="464.10" y="453.20" font-size="12" text-anchor="middle" textLength="13.8" lengthAdjust="spacingAndGlyphs">#6</text>
<rect x="503.96" y="389.32" width="17.10" height="26.98" fill="#4472c4" stroke="#000" stroke-width="1.0"/>
<rect x="521.06" y="328.79" width="17.10" height="87.51" fill="#ff0000" stroke="#000" stroke-width="1.0"/>
<path d="M512.51 387.95V390.69M508.91 387.95H516.11M508.91 390.69H516.11" stroke="#6a6a6a" stroke-width="1.0" fill="none"/>
<path d="M529.61 326.04V331.53M526.01 326.04H533.21M526.01 331.53H533.21" stroke="#6a6a6a" stroke-width="1.0" fill="none"/>
<text x="529.80" y="318.70" font-size="17" text-anchor="middle" textLength="21.6" lengthAdjust="spacingAndGlyphs">3.2</text>
<text x="524.60" y="433.00" font-size="12" text-anchor="middle" textLength="35.2" lengthAdjust="spacingAndGlyphs">73PDL</text>
<text x="522.00" y="452.50" font-size="12" text-anchor="middle" textLength="13.8" lengthAdjust="spacingAndGlyphs">#6</text>
<rect x="563.54" y="377.20" width="17.10" height="39.10" fill="#4472c4" stroke="#000" stroke-width="1.0"/>
<rect x="580.64" y="303.07" width="17.10" height="113.23" fill="#ff0000" stroke="#000" stroke-width="1.0"/>
<path d="M572.09 376.77V377.64M568.49 376.77H575.69M568.49 377.64H575.69" stroke="#6a6a6a" stroke-width="1.0" fill="none"/>
<path d="M589.19 302.52V303.62M585.59 302.52H592.79M585.59 303.62H592.79" stroke="#6a6a6a" stroke-width="1.0" fill="none"/>
<text x="588.90" y="295.90" font-size="17" text-anchor="middle" textLength="21.6" lengthAdjust="spacingAndGlyphs">2.9</text>
<text x="580.80" y="433.20" font-size="12" text-anchor="middle" textLength="35.2" lengthAdjust="spacingAndGlyphs">18PDL</text>
<text x="580.30" y="452.20" font-size="12" text-anchor="middle" textLength="13.8" lengthAdjust="spacingAndGlyphs">#9</text>
<rect x="623.11" y="368.60" width="17.10" height="47.70" fill="#4472c4" stroke="#000" stroke-width="1.0"/>
<rect x="640.21" y="267.37" width="17.10" height="148.93" fill="#ff0000" stroke="#000" stroke-width="1.0"/>
<path d="M631.66 367.39V369.80M628.06 367.39H635.26M628.06 369.80H635.26" stroke="#6a6a6a" stroke-width="1.0" fill="none"/>
<path d="M648.76 264.63V270.11M645.16 264.63H652.36M645.16 270.11H652.36" stroke="#6a6a6a" stroke-width="1.0" fill="none"/>
<text x="646.80" y="258.50" font-size="17" text-anchor="middle" textLength="21.6" lengthAdjust="spacingAndGlyphs">3.1</text>
<text x="634.00" y="433.20" font-size="12" text-anchor="middle" textLength="35.2" lengthAdjust="spacingAndGlyphs">93PDL</text>
<text x="635.30" y="452.20" font-size="12" text-anchor="middle" textLength="13.8" lengthAdjust="spacingAndGlyphs">#9</text>
<rect x="473.40" y="233.20" width="9.60" height="9.30" fill="#0a70c4" stroke="#000" stroke-width="1.0"/>
<text x="492.60" y="240.20" font-size="10" text-anchor="start" textLength="36.2" lengthAdjust="spacingAndGlyphs">No PTH</text>
<rect x="537.80" y="232.60" width="9.80" height="9.20" fill="#ff0000" stroke="#000" stroke-width="1.0"/>
<text x="556.80" y="239.60" font-size="10" text-anchor="start" textLength="52.6" lengthAdjust="spacingAndGlyphs">10 μM PTH</text>
<text x="381.30" y="240.90" font-size="18" text-anchor="start" font-weight="bold">e</text>
<clipPath id="cpf"><rect x="10.5" y="502.9" width="159.5" height="161.4"/></clipPath>
<rect x="10.5" y="502.9" width="159.5" height="161.4" fill="#00090a"/>
<g clip-path="url(#cpf)">
<circle cx="187.5" cy="660" r="31" fill="url(#hazef)" filter="url(#b2)"/>
<circle cx="166.8" cy="523.7" r="2" fill="#0e4858" filter="url(#b1)"/>
<circle cx="42.9" cy="581.2" r="0.8" fill="#2c7a30" filter="url(#b05)"/>
<g filter="url(#b3)">
<path d="M71.9 512.4 L86.4 521.7 L97.7 526.8M19.3 561.9 L30.6 558.8 L39.9 555.7M91.5 546.4 l0.01 0M103.9 549.1 L106.0 551.6M100.8 569.1 L107.0 561.9 L114.2 556.7M72.9 565.0 L82.2 555.7M81.2 564.0 L83.3 567.1M81.2 576.4 L100.8 582.5 L119.4 587.7M133.8 597.0 L146.2 582.5 L155.5 570.2M37.9 609.4 L49.2 603.2 L57.5 593.9M60.6 608.3 L72.9 616.6M69.8 602.1 L70.9 605.2M81.2 608.3 L91.5 597.0M29.6 619.7 L30.6 630.0M95.6 629.0 L99.8 618.7M61.6 636.2 L69.8 631.0M116.3 624.8 L116.3 634.1M122.5 627.9 L133.8 623.8M116.3 648.6 L123.5 638.3M71.9 654.8 L82.2 651.7" fill="none" stroke="#0a3a44" stroke-width="9" stroke-linecap="round" stroke-linejoin="round"/>
</g>
<g filter="url(#tf)">
<path d="M73.1 513.1 L86.4 521.7 L96.4 526.2" fill="none" stroke="#2daac6" stroke-width="8" stroke-linecap="round" stroke-linejoin="round"/>
<path d="M20.6 561.5 L30.6 558.8 L38.6 556.2" fill="none" stroke="#2daac6" stroke-width="6.8" stroke-linecap="round" stroke-linejoin="round"/>
<path d="M91.5 546.4 l0.01 0" fill="none" stroke="#2daac6" stroke-width="5.5" stroke-linecap="round" stroke-linejoin="round"/>
<path d="M104.8 550.2 L105.1 550.5" fill="none" stroke="#2daac6" stroke-width="6.5" stroke-linecap="round" stroke-linejoin="round"/>
<path d="M101.7 568.1 L107.0 561.9 L113.1 557.6" fill="none" stroke="#2daac6" stroke-width="8" stroke-linecap="round" stroke-linejoin="round"/>
<path d="M73.9 564.0 L81.2 556.7" fill="none" stroke="#2daac6" stroke-width="6.8" stroke-linecap="round" stroke-linejoin="round"/>
<path d="M82.0 565.1 L82.5 565.9" fill="none" stroke="#2daac6" stroke-width="6" stroke-linecap="round" stroke-linejoin="round"/>
<path d="M82.5 576.8 L100.8 582.5 L118.0 587.3" fill="none" stroke="#2daac6" stroke-width="8.2" stroke-linecap="round" stroke-linejoin="round"/>
<path d="M134.7 595.9 L146.2 582.5 L154.6 571.3" fill="none" stroke="#2daac6" stroke-width="8.2" stroke-linecap="round" stroke-linejoin="round"/>
<path d="M39.1 608.7 L49.2 603.2 L56.5 594.9" fill="none" stroke="#2daac6" stroke-width="7.6" stroke-linecap="round" stroke-linejoin="round"/>
<path d="M61.7 609.1 L71.8 615.8" fill="none" stroke="#2daac6" stroke-width="6.8" stroke-linecap="round" stroke-linejoin="round"/>
<path d="M70.3 603.5 L70.4 603.9" fill="none" stroke="#2daac6" stroke-width="5" stroke-linecap="round" stroke-linejoin="round"/>
<path d="M82.1 607.3 L90.6 598.0" fill="none" stroke="#2daac6" stroke-width="6.8" stroke-linecap="round" stroke-linejoin="round"/>
<path d="M29.7 621.1 L30.5 628.6" fill="none" stroke="#2daac6" stroke-width="6.4" stroke-linecap="round" stroke-linejoin="round"/>
<path d="M96.2 627.7 L99.2 620.0" fill="none" stroke="#2daac6" stroke-width="6" stroke-linecap="round" stroke-linejoin="round"/>
<path d="M62.8 635.5 L68.7 631.8" fill="none" stroke="#2daac6" stroke-width="6.4" stroke-linecap="round" stroke-linejoin="round"/>
<path d="M116.3 626.2 L116.3 632.7" fill="none" stroke="#2daac6" stroke-width="5" stroke-linecap="round" stroke-linejoin="round"/>
<path d="M123.8 627.5 L132.5 624.3" fill="none" stroke="#2daac6" stroke-width="6" stroke-linecap="round" stroke-linejoin="round"/>
<path d="M117.1 647.4 L122.7 639.4" fill="none" stroke="#2daac6" stroke-width="7.2" stroke-linecap="round" stroke-linejoin="round"/>
<path d="M73.2 654.4 L80.9 652.1" fill="none" stroke="#2daac6" stroke-width="6.4" stroke-linecap="round" stroke-linejoin="round"/>
</g>
<g filter="url(#b05)"><circle cx="94" cy="554.7" r="1.8" fill="#d81858"/><circle cx="93.8" cy="554.4" r="0.9" fill="#ffe0a0"/></g>
<polygon points="81.8,538.2 75.0,550.6 89.4,550.6" fill="#ff0000"/>
</g>
<rect x="9.00" y="501.00" width="39.90" height="40.80" fill="#fff"/>
<clipPath id="cpif"><rect x="10.5" y="502.9" width="34.5" height="34.9"/></clipPath>
<g clip-path="url(#cpif)"><rect x="10.5" y="502.9" width="34.5" height="34.9" fill="#07282e"/>
<g filter="url(#b3)"><circle cx="10" cy="502" r="11" fill="#2cc4e4"/><circle cx="46" cy="540" r="14" fill="#041a1e"/></g>
<g filter="url(#b2)"><circle cx="28.2" cy="523.3" r="8.8" fill="#68084a"/></g>
<g filter="url(#b1)"><circle cx="28.6" cy="524.2" r="4.6" fill="#ee2050"/><ellipse cx="26" cy="520.4" rx="3.8" ry="2.2" fill="#f2cc88"/></g></g>
<text x="8.40" y="490.90" font-size="18" text-anchor="start" font-weight="bold">f</text>
<clipPath id="cpg"><rect x="177.2" y="502.0" width="162.0" height="161.7"/></clipPath>
<rect x="177.2" y="502.0" width="162.0" height="161.7" fill="#000306"/>
<g clip-path="url(#cpg)">
<circle cx="226.8" cy="510.6" r="3" fill="#08323c" filter="url(#b2)"/>
<circle cx="335.7" cy="552.9" r="2" fill="#0c4450" filter="url(#b1)"/>
<g filter="url(#b3)">
<path d="M303.9 533.8 L307.1 541.2M299.7 531.7 L302.9 534.9M309.2 525.4 L311.3 528.5M279.6 552.9 L283.8 556.0M291.2 550.8 L295.5 552.9M306.0 556.0 L308.2 564.5M313.4 553.9 L319.8 551.8M313.4 565.6 L315.6 570.8M327.2 558.2 L329.9 563.4M226.8 569.8 L231.0 562.4M242.6 570.8 L246.8 568.7M250.0 565.6 L252.5 564.5M255.3 570.8 L257.4 575.1M272.2 566.6 L275.0 569.8M277.5 573.0 L281.7 577.2 L287.0 581.4M239.4 582.5 L242.0 581.4M247.9 578.2 L250.0 581.4M309.2 577.2 L312.4 586.7M321.9 576.1 L330.4 574.0M223.6 592.0 L232.0 589.9M251.1 586.7 L255.3 593.0M265.9 588.8 L266.9 600.4M271.2 595.2 L272.2 599.4M275.4 589.9 L286.0 586.7 L299.7 589.9M301.8 585.6 L303.9 588.8M321.9 590.9 L325.1 588.8M185.5 593.0 L194.0 589.9M228.9 599.4 L239.4 596.2M297.6 599.4 L299.7 607.8M305.0 611.0 L317.7 605.7M313.4 597.3 L316.6 596.2M290.2 605.7 L291.2 615.2M222.5 611.0 L241.6 614.2M204.5 625.8 L206.7 634.3M214.1 619.5 L217.2 627.9M227.8 622.6 L241.6 625.8M251.1 618.4 L254.2 627.9M259.5 617.4 L260.6 624.8M265.9 621.6 L272.2 618.4 L280.7 612.1M275.4 634.3 L280.7 626.9 L291.2 625.8M261.6 630.0 L266.9 639.6M219.3 641.7 L232.0 635.3M241.6 634.3 L249.0 631.1M241.6 644.9 L257.4 640.6M262.7 655.4 L265.9 643.8M309.2 626.9 l0.01 0" fill="none" stroke="#05242b" stroke-width="9" stroke-linecap="round" stroke-linejoin="round"/>
</g>
<g filter="url(#tg)">
<path d="M304.1 534.3 L306.9 540.8" fill="none" stroke="#2ca0b6" stroke-width="4.888" stroke-linecap="round" stroke-linejoin="round"/>
<path d="M300.1 532.1 L302.5 534.5" fill="none" stroke="#2ca0b6" stroke-width="4.324" stroke-linecap="round" stroke-linejoin="round"/>
<path d="M309.5 525.8 L311.1 528.1" fill="none" stroke="#2ca0b6" stroke-width="4.324" stroke-linecap="round" stroke-linejoin="round"/>
<path d="M280.0 553.2 L283.4 555.7" fill="none" stroke="#2ca0b6" stroke-width="5.263999999999999" stroke-linecap="round" stroke-linejoin="round"/>
<path d="M291.7 551.0 L295.0 552.6" fill="none" stroke="#2ca0b6" stroke-width="4.324" stroke-linecap="round" stroke-linejoin="round"/>
<path d="M306.2 556.5 L308.0 564.0" fill="none" stroke="#2ca0b6" stroke-width="5.452" stroke-linecap="round" stroke-linejoin="round"/>
<path d="M313.9 553.8 L319.3 552.0" fill="none" stroke="#2ca0b6" stroke-width="5.452" stroke-linecap="round" stroke-linejoin="round"/>
<path d="M313.6 566.0 L315.4 570.4" fill="none" stroke="#2ca0b6" stroke-width="4.888" stroke-linecap="round" stroke-linejoin="round"/>
<path d="M327.4 558.6 L329.7 563.0" fill="none" stroke="#2ca0b6" stroke-width="4.888" stroke-linecap="round" stroke-linejoin="round"/>
<path d="M227.0 569.3 L230.7 562.8" fill="none" stroke="#2ca0b6" stroke-width="5.452" stroke-linecap="round" stroke-linejoin="round"/>
<path d="M243.1 570.6 L246.4 568.9" fill="none" stroke="#2ca0b6" stroke-width="4.888" stroke-linecap="round" stroke-linejoin="round"/>
<path d="M250.5 565.4 L252.1 564.7" fill="none" stroke="#2ca0b6" stroke-width="3.5719999999999996" stroke-linecap="round" stroke-linejoin="round"/>
<path d="M255.5 571.3 L257.2 574.6" fill="none" stroke="#2ca0b6" stroke-width="4.324" stroke-linecap="round" stroke-linejoin="round"/>
<path d="M272.5 567.0 L274.6 569.4" fill="none" stroke="#2ca0b6" stroke-width="3.948" stroke-linecap="round" stroke-linejoin="round"/>
<path d="M277.9 573.3 L281.7 577.2 L286.6 581.1" fill="none" stroke="#2ca0b6" stroke-width="5.452" stroke-linecap="round" stroke-linejoin="round"/>
<path d="M239.9 582.3 L241.5 581.6" fill="none" stroke="#2ca0b6" stroke-width="3.948" stroke-linecap="round" stroke-linejoin="round"/>
<path d="M248.2 578.7 L249.7 581.0" fill="none" stroke="#3cc0d8" stroke-width="5.076" stroke-linecap="round" stroke-linejoin="round"/>
<path d="M309.4 577.7 L312.2 586.2" fill="none" stroke="#2ca0b6" stroke-width="5.452" stroke-linecap="round" stroke-linejoin="round"/>
<path d="M322.4 576.0 L329.9 574.1" fill="none" stroke="#2ca0b6" stroke-width="5.452" stroke-linecap="round" stroke-linejoin="round"/>
<path d="M224.1 591.9 L231.6 590.0" fill="none" stroke="#2ca0b6" stroke-width="5.452" stroke-linecap="round" stroke-linejoin="round"/>
<path d="M251.3 587.1 L255.0 592.6" fill="none" stroke="#2ca0b6" stroke-width="5.827999999999999" stroke-linecap="round" stroke-linejoin="round"/>
<path d="M265.9 589.3 L266.9 599.9" fill="none" stroke="#2ca0b6" stroke-width="5.827999999999999" stroke-linecap="round" stroke-linejoin="round"/>
<path d="M271.3 595.6 L272.1 598.9" fill="none" stroke="#2ca0b6" stroke-width="4.324" stroke-linecap="round" stroke-linejoin="round"/>
<path d="M275.9 589.7 L286.0 586.7 L299.2 589.8" fill="none" stroke="#30a8c0" stroke-width="6.58" stroke-linecap="round" stroke-linejoin="round"/>
<path d="M302.1 586.1 L303.7 588.4" fill="none" stroke="#2ca0b6" stroke-width="4.699999999999999" stroke-linecap="round" stroke-linejoin="round"/>
<path d="M322.3 590.7 L324.7 589.1" fill="none" stroke="#2ca0b6" stroke-width="4.324" stroke-linecap="round" stroke-linejoin="round"/>
<path d="M186.0 592.9 L193.5 590.0" fill="none" stroke="#2ca0b6" stroke-width="5.452" stroke-linecap="round" stroke-linejoin="round"/>
<path d="M229.3 599.2 L239.0 596.4" fill="none" stroke="#2ca0b6" stroke-width="5.076" stroke-linecap="round" stroke-linejoin="round"/>
<path d="M297.7 599.9 L299.6 607.4" fill="none" stroke="#30a8c0" stroke-width="5.827999999999999" stroke-linecap="round" stroke-linejoin="round"/>
<path d="M305.5 610.8 L317.2 605.9" fill="none" stroke="#2ca0b6" stroke-width="5.827999999999999" stroke-linecap="round" stroke-linejoin="round"/>
<path d="M313.9 597.1 L316.1 596.4" fill="none" stroke="#2ca0b6" stroke-width="3.948" stroke-linecap="round" stroke-linejoin="round"/>
<path d="M290.2 606.2 L291.2 614.7" fill="none" stroke="#2ca0b6" stroke-width="5.076" stroke-linecap="round" stroke-linejoin="round"/>
<path d="M223.0 611.1 L241.1 614.1" fill="none" stroke="#2ca0b6" stroke-width="5.827999999999999" stroke-linecap="round" stroke-linejoin="round"/>
<path d="M204.7 626.3 L206.5 633.8" fill="none" stroke="#2ca0b6" stroke-width="5.076" stroke-linecap="round" stroke-linejoin="round"/>
<path d="M214.2 619.9 L217.1 627.5" fill="none" stroke="#2ca0b6" stroke-width="4.699999999999999" stroke-linecap="round" stroke-linejoin="round"/>
<path d="M228.3 622.8 L241.1 625.7" fill="none" stroke="#2ca0b6" stroke-width="5.452" stroke-linecap="round" stroke-linejoin="round"/>
<path d="M251.2 618.9 L254.1 627.5" fill="none" stroke="#2ca0b6" stroke-width="5.076" stroke-linecap="round" stroke-linejoin="round"/>
<path d="M259.6 617.9 L260.5 624.3" fill="none" stroke="#2ca0b6" stroke-width="4.699999999999999" stroke-linecap="round" stroke-linejoin="round"/>
<path d="M266.3 621.4 L272.2 618.4 L280.3 612.4" fill="none" stroke="#2ca0b6" stroke-width="5.452" stroke-linecap="round" stroke-linejoin="round"/>
<path d="M275.7 633.9 L280.7 626.9 L290.7 625.9" fill="none" stroke="#2ca0b6" stroke-width="5.452" stroke-linecap="round" stroke-linejoin="round"/>
<path d="M261.9 630.5 L266.7 639.1" fill="none" stroke="#2ca0b6" stroke-width="5.452" stroke-linecap="round" stroke-linejoin="round"/>
<path d="M219.8 641.5 L231.6 635.6" fill="none" stroke="#2ca0b6" stroke-width="5.452" stroke-linecap="round" stroke-linejoin="round"/>
<path d="M242.0 634.1 L248.5 631.3" fill="none" stroke="#2ca0b6" stroke-width="4.699999999999999" stroke-linecap="round" stroke-linejoin="round"/>
<path d="M242.0 644.7 L256.9 640.8" fill="none" stroke="#2ca0b6" stroke-width="5.827999999999999" stroke-linecap="round" stroke-linejoin="round"/>
<path d="M262.8 654.9 L265.7 644.3" fill="none" stroke="#2ca0b6" stroke-width="5.076" stroke-linecap="round" stroke-linejoin="round"/>
<path d="M309.2 626.9 l0.01 0" fill="none" stroke="#2ca0b6" stroke-width="4.699999999999999" stroke-linecap="round" stroke-linejoin="round"/>
</g>
<g filter="url(#b1)"><circle cx="280.7" cy="611" r="1.8" fill="#48d0e8"/><circle cx="248" cy="579" r="1.8" fill="#40c8e0"/></g>
<g filter="url(#b05)"><circle cx="305" cy="513.1" r="1.7" fill="#d81870"/><circle cx="305.3" cy="512.7" r="0.7" fill="#ffd8e0"/></g>
<polygon points="304.6,517.3 297.6,529.6 312.4,529.6" fill="#ff0000"/>
</g>
<rect x="176.00" y="500.00" width="27.10" height="27.90" fill="#fff"/>
<clipPath id="cpig"><rect x="177.2" y="502.6" width="22.0" height="21.1"/></clipPath>
<g clip-path="url(#cpig)"><rect x="177.2" y="502.6" width="22.0" height="21.1" fill="#060208"/>
<g filter="url(#b2)"><ellipse cx="187.5" cy="514.6" rx="7" ry="5" fill="#a00848" transform="rotate(-30 187.5 514.6)"/><circle cx="191.6" cy="517" r="2.6" fill="#5818a8"/></g>
<g filter="url(#b1)"><circle cx="188.4" cy="515.6" r="2.2" fill="#e81868"/><path d="M186.8 515 L189.4 511.8" stroke="#fff0f0" stroke-width="1.8" stroke-linecap="round"/></g></g>
<text x="182.60" y="490.60" font-size="18" text-anchor="start" font-weight="bold">g</text>
<rect x="429.00" y="527.10" width="338.50" height="133.20" fill="#fff" stroke="#c6c6c6" stroke-width="1.4"/>
<line x1="429.00" y1="660.30" x2="434.00" y2="660.30" stroke="#c8c8c8" stroke-width="1.1"/>
<line x1="429.00" y1="643.65" x2="432.00" y2="643.65" stroke="#c8c8c8" stroke-width="1.1"/>
<line x1="429.00" y1="627.00" x2="434.00" y2="627.00" stroke="#c8c8c8" stroke-width="1.1"/>
<line x1="429.00" y1="610.35" x2="432.00" y2="610.35" stroke="#c8c8c8" stroke-width="1.1"/>
<line x1="429.00" y1="593.70" x2="434.00" y2="593.70" stroke="#c8c8c8" stroke-width="1.1"/>
<line x1="429.00" y1="577.05" x2="432.00" y2="577.05" stroke="#c8c8c8" stroke-width="1.1"/>
<line x1="429.00" y1="560.40" x2="434.00" y2="560.40" stroke="#c8c8c8" stroke-width="1.1"/>
<line x1="429.00" y1="543.75" x2="432.00" y2="543.75" stroke="#c8c8c8" stroke-width="1.1"/>
<line x1="429.00" y1="527.10" x2="434.00" y2="527.10" stroke="#c8c8c8" stroke-width="1.1"/>
<text x="423.50" y="664.50" font-size="12.88" text-anchor="end" textLength="7.0" lengthAdjust="spacingAndGlyphs">0</text>
<text x="423.50" y="631.20" font-size="12.88" text-anchor="end" textLength="34.8" lengthAdjust="spacingAndGlyphs">10000</text>
<text x="423.50" y="597.90" font-size="12.88" text-anchor="end" textLength="34.8" lengthAdjust="spacingAndGlyphs">20000</text>
<text x="423.50" y="564.60" font-size="12.88" text-anchor="end" textLength="34.8" lengthAdjust="spacingAndGlyphs">30000</text>
<text x="423.50" y="531.30" font-size="12.88" text-anchor="end" textLength="34.8" lengthAdjust="spacingAndGlyphs">40000</text>
<text x="377.30" y="596.30" font-size="12.5" text-anchor="middle" textLength="111.6" lengthAdjust="spacingAndGlyphs" transform="rotate(-90 377.30 596.30)">Photon counts (cps)</text>
<rect x="437.76" y="657.47" width="12.40" height="2.83" fill="#4472c4" stroke="#000" stroke-width="1.0"/>
<rect x="450.16" y="644.32" width="12.40" height="15.98" fill="#ff0000" stroke="#000" stroke-width="1.0"/>
<path d="M456.36 643.48V645.15M452.76 643.48H459.96M452.76 645.15H459.96" stroke="#6a6a6a" stroke-width="1.0" fill="none"/>
<text x="451.20" y="636.50" font-size="17" text-anchor="middle" textLength="21.6" lengthAdjust="spacingAndGlyphs">5.5</text>
<text x="450.56" y="676.50" font-size="13" text-anchor="middle" textLength="24.8" lengthAdjust="spacingAndGlyphs">#2-1</text>
<rect x="480.07" y="658.70" width="12.40" height="1.60" fill="#4472c4" stroke="#000" stroke-width="0.5"/>
<rect x="492.47" y="657.10" width="12.40" height="3.20" fill="#ff0000" stroke="#000" stroke-width="0.5"/>
<path d="M498.67 656.77V657.44M495.07 656.77H502.27M495.07 657.44H502.27" stroke="#6a6a6a" stroke-width="1.0" fill="none"/>
<text x="490.40" y="646.30" font-size="17" text-anchor="middle" textLength="21.6" lengthAdjust="spacingAndGlyphs">1.9</text>
<text x="492.87" y="676.50" font-size="13" text-anchor="middle" textLength="24.8" lengthAdjust="spacingAndGlyphs">#2-2</text>
<rect x="522.38" y="653.11" width="12.40" height="7.19" fill="#4472c4" stroke="#000" stroke-width="1.0"/>
<rect x="534.78" y="622.10" width="12.40" height="38.20" fill="#ff0000" stroke="#000" stroke-width="1.0"/>
<path d="M528.58 652.84V653.37M524.98 652.84H532.18M524.98 653.37H532.18" stroke="#6a6a6a" stroke-width="1.0" fill="none"/>
<path d="M540.98 620.61V623.60M537.38 620.61H544.58M537.38 623.60H544.58" stroke="#6a6a6a" stroke-width="1.0" fill="none"/>
<text x="538.90" y="613.80" font-size="17" text-anchor="middle" textLength="21.6" lengthAdjust="spacingAndGlyphs">5.1</text>
<text x="535.18" y="676.50" font-size="13" text-anchor="middle" textLength="24.8" lengthAdjust="spacingAndGlyphs">#2-5</text>
<rect x="564.69" y="643.32" width="12.40" height="16.98" fill="#4472c4" stroke="#000" stroke-width="1.0"/>
<rect x="577.09" y="541.09" width="12.40" height="119.21" fill="#ff0000" stroke="#000" stroke-width="1.0"/>
<path d="M570.89 642.48V644.15M567.29 642.48H574.49M567.29 644.15H574.49" stroke="#6a6a6a" stroke-width="1.0" fill="none"/>
<path d="M583.29 538.42V543.75M579.69 538.42H586.89M579.69 543.75H586.89" stroke="#6a6a6a" stroke-width="1.0" fill="none"/>
<text x="577.20" y="536.00" font-size="17" text-anchor="middle" textLength="21.6" lengthAdjust="spacingAndGlyphs">7.0</text>
<text x="577.49" y="676.50" font-size="13" text-anchor="middle" textLength="24.8" lengthAdjust="spacingAndGlyphs">#2-6</text>
<rect x="607.01" y="648.84" width="12.40" height="11.46" fill="#4472c4" stroke="#000" stroke-width="1.0"/>
<rect x="619.41" y="626.13" width="12.40" height="34.17" fill="#ff0000" stroke="#000" stroke-width="1.0"/>
<path d="M613.21 648.18V649.51M609.61 648.18H616.81M609.61 649.51H616.81" stroke="#6a6a6a" stroke-width="1.0" fill="none"/>
<path d="M625.61 624.47V627.80M622.01 624.47H629.21M622.01 627.80H629.21" stroke="#6a6a6a" stroke-width="1.0" fill="none"/>
<text x="622.50" y="617.60" font-size="17" text-anchor="middle" textLength="21.6" lengthAdjust="spacingAndGlyphs">2.9</text>
<text x="619.81" y="676.50" font-size="13" text-anchor="middle" textLength="24.8" lengthAdjust="spacingAndGlyphs">#2-8</text>
<rect x="649.32" y="659.47" width="12.40" height="0.83" fill="#4472c4" stroke="#000" stroke-width="0.5"/>
<rect x="661.72" y="658.90" width="12.40" height="1.40" fill="#ff0000" stroke="#000" stroke-width="0.5"/>
<text x="664.60" y="652.90" font-size="17" text-anchor="middle" textLength="21.6" lengthAdjust="spacingAndGlyphs">2.3</text>
<text x="662.12" y="676.50" font-size="13" text-anchor="middle" textLength="24.8" lengthAdjust="spacingAndGlyphs">#2-9</text>
<rect x="691.63" y="653.47" width="12.40" height="6.83" fill="#4472c4" stroke="#000" stroke-width="1.0"/>
<rect x="704.03" y="613.01" width="12.40" height="47.29" fill="#ff0000" stroke="#000" stroke-width="1.0"/>
<path d="M710.23 611.85V614.18M706.63 611.85H713.83M706.63 614.18H713.83" stroke="#6a6a6a" stroke-width="1.0" fill="none"/>
<text x="706.20" y="604.70" font-size="17" text-anchor="middle" textLength="21.6" lengthAdjust="spacingAndGlyphs">6.3</text>
<text x="704.43" y="676.50" font-size="13" text-anchor="middle" textLength="31.5" lengthAdjust="spacingAndGlyphs">#2-10</text>
<rect x="733.94" y="652.91" width="12.40" height="7.39" fill="#4472c4" stroke="#000" stroke-width="1.0"/>
<rect x="746.34" y="624.17" width="12.40" height="36.13" fill="#ff0000" stroke="#000" stroke-width="1.0"/>
<path d="M752.54 622.84V625.50M748.94 622.84H756.14M748.94 625.50H756.14" stroke="#6a6a6a" stroke-width="1.0" fill="none"/>
<text x="746.90" y="613.30" font-size="17" text-anchor="middle" textLength="21.6" lengthAdjust="spacingAndGlyphs">4.7</text>
<text x="746.74" y="676.50" font-size="13" text-anchor="middle" textLength="31.5" lengthAdjust="spacingAndGlyphs">#2-11</text>
<rect x="489.10" y="500.00" width="10.00" height="9.20" fill="#0a70c4" stroke="#000" stroke-width="1.0"/>
<text x="508.90" y="507.20" font-size="10.5" text-anchor="start" textLength="41.4" lengthAdjust="spacingAndGlyphs">No PGE2</text>
<rect x="570.80" y="502.40" width="10.40" height="9.00" fill="#ff0000" stroke="#000" stroke-width="1.0"/>
<text x="590.70" y="509.60" font-size="10.5" text-anchor="start" textLength="51.8" lengthAdjust="spacingAndGlyphs">1 μM PGE2</text>
<text x="381.20" y="490.90" font-size="18" text-anchor="start" font-weight="bold">h</text>
<rect x="106.10" y="738.40" width="165.80" height="148.00" fill="#fff" stroke="#c6c6c6" stroke-width="1.4"/>
<line x1="106.10" y1="886.40" x2="112.10" y2="886.40" stroke="#c8c8c8" stroke-width="1.1"/>
<line x1="106.10" y1="874.07" x2="109.60" y2="874.07" stroke="#c8c8c8" stroke-width="1.1"/>
<line x1="106.10" y1="861.73" x2="112.10" y2="861.73" stroke="#c8c8c8" stroke-width="1.1"/>
<line x1="106.10" y1="849.40" x2="109.60" y2="849.40" stroke="#c8c8c8" stroke-width="1.1"/>
<line x1="106.10" y1="837.07" x2="112.10" y2="837.07" stroke="#c8c8c8" stroke-width="1.1"/>
<line x1="106.10" y1="824.73" x2="109.60" y2="824.73" stroke="#c8c8c8" stroke-width="1.1"/>
<line x1="106.10" y1="812.40" x2="112.10" y2="812.40" stroke="#c8c8c8" stroke-width="1.1"/>
<line x1="106.10" y1="800.07" x2="109.60" y2="800.07" stroke="#c8c8c8" stroke-width="1.1"/>
<line x1="106.10" y1="787.73" x2="112.10" y2="787.73" stroke="#c8c8c8" stroke-width="1.1"/>
<line x1="106.10" y1="775.40" x2="109.60" y2="775.40" stroke="#c8c8c8" stroke-width="1.1"/>
<line x1="106.10" y1="763.07" x2="112.10" y2="763.07" stroke="#c8c8c8" stroke-width="1.1"/>
<line x1="106.10" y1="750.73" x2="109.60" y2="750.73" stroke="#c8c8c8" stroke-width="1.1"/>
<line x1="106.10" y1="738.40" x2="112.10" y2="738.40" stroke="#c8c8c8" stroke-width="1.1"/>
<line x1="106.10" y1="886.40" x2="106.10" y2="880.40" stroke="#c8c8c8" stroke-width="1.1"/>
<line x1="119.92" y1="886.40" x2="119.92" y2="882.90" stroke="#c8c8c8" stroke-width="1.1"/>
<line x1="133.73" y1="886.40" x2="133.73" y2="882.90" stroke="#c8c8c8" stroke-width="1.1"/>
<line x1="147.55" y1="886.40" x2="147.55" y2="882.90" stroke="#c8c8c8" stroke-width="1.1"/>
<line x1="161.37" y1="886.40" x2="161.37" y2="880.40" stroke="#c8c8c8" stroke-width="1.1"/>
<line x1="175.18" y1="886.40" x2="175.18" y2="882.90" stroke="#c8c8c8" stroke-width="1.1"/>
<line x1="189.00" y1="886.40" x2="189.00" y2="882.90" stroke="#c8c8c8" stroke-width="1.1"/>
<line x1="202.82" y1="886.40" x2="202.82" y2="882.90" stroke="#c8c8c8" stroke-width="1.1"/>
<line x1="216.63" y1="886.40" x2="216.63" y2="880.40" stroke="#c8c8c8" stroke-width="1.1"/>
<line x1="230.45" y1="886.40" x2="230.45" y2="882.90" stroke="#c8c8c8" stroke-width="1.1"/>
<line x1="244.27" y1="886.40" x2="244.27" y2="882.90" stroke="#c8c8c8" stroke-width="1.1"/>
<line x1="258.08" y1="886.40" x2="258.08" y2="882.90" stroke="#c8c8c8" stroke-width="1.1"/>
<line x1="271.90" y1="886.40" x2="271.90" y2="880.40" stroke="#c8c8c8" stroke-width="1.1"/>
<polyline points="119.92,884.55 133.73,873.02 147.55,860.99 161.37,859.64 175.18,863.40 189.00,867.16 202.82,869.81 216.63,871.41 230.45,872.76 244.27,873.29 258.08,874.09 271.90,874.63" fill="none" stroke="#00b0f0" stroke-width="2.2" stroke-linejoin="round"/>
<circle cx="119.92" cy="884.55" r="4.2" fill="#00b0f0"/>
<circle cx="133.73" cy="873.02" r="4.2" fill="#00b0f0"/>
<circle cx="147.55" cy="860.99" r="4.2" fill="#00b0f0"/>
<circle cx="161.37" cy="859.64" r="4.2" fill="#00b0f0"/>
<circle cx="175.18" cy="863.40" r="4.2" fill="#00b0f0"/>
<circle cx="189.00" cy="867.16" r="4.2" fill="#00b0f0"/>
<circle cx="202.82" cy="869.81" r="4.2" fill="#00b0f0"/>
<circle cx="216.63" cy="871.41" r="4.2" fill="#00b0f0"/>
<circle cx="230.45" cy="872.76" r="4.2" fill="#00b0f0"/>
<circle cx="244.27" cy="873.29" r="4.2" fill="#00b0f0"/>
<circle cx="258.08" cy="874.09" r="4.2" fill="#00b0f0"/>
<circle cx="271.90" cy="874.63" r="4.2" fill="#00b0f0"/>
<path d="M133.73 834.51V849.49M130.53 834.51H136.93M130.53 849.49H136.93" stroke="#595959" stroke-width="1.0" fill="none"/>
<path d="M147.55 774.04V799.70M144.35 774.04H150.75M144.35 799.70H150.75" stroke="#595959" stroke-width="1.0" fill="none"/>
<path d="M161.37 751.60V771.33M158.17 751.60H164.57M158.17 771.33H164.57" stroke="#595959" stroke-width="1.0" fill="none"/>
<path d="M175.18 757.64V772.19M171.98 757.64H178.38M171.98 772.19H178.38" stroke="#595959" stroke-width="1.0" fill="none"/>
<path d="M189.00 770.03V782.86M185.80 770.03H192.20M185.80 782.86H192.20" stroke="#595959" stroke-width="1.0" fill="none"/>
<path d="M202.82 781.49V793.33M199.62 781.49H206.02M199.62 793.33H206.02" stroke="#595959" stroke-width="1.0" fill="none"/>
<path d="M216.63 788.45V800.29M213.43 788.45H219.83M213.43 800.29H219.83" stroke="#595959" stroke-width="1.0" fill="none"/>
<path d="M230.45 795.13V806.97M227.25 795.13H233.65M227.25 806.97H233.65" stroke="#595959" stroke-width="1.0" fill="none"/>
<path d="M244.27 798.09V810.43M241.07 798.09H247.47M241.07 810.43H247.47" stroke="#595959" stroke-width="1.0" fill="none"/>
<path d="M258.08 801.58V813.92M254.88 801.58H261.28M254.88 813.92H261.28" stroke="#595959" stroke-width="1.0" fill="none"/>
<path d="M271.90 805.38V815.99M268.70 805.38H275.10M268.70 815.99H275.10" stroke="#595959" stroke-width="1.0" fill="none"/>
<polyline points="119.92,880.79 133.73,842.00 147.55,786.87 161.37,761.46 175.18,764.92 189.00,776.45 202.82,787.41 216.63,794.37 230.45,801.05 244.27,804.26 258.08,807.75 271.90,810.69" fill="none" stroke="#ff0000" stroke-width="2.2" stroke-linejoin="round"/>
<circle cx="119.92" cy="880.79" r="4.2" fill="#ff0000"/>
<circle cx="133.73" cy="842.00" r="4.2" fill="#ff0000"/>
<circle cx="147.55" cy="786.87" r="4.2" fill="#ff0000"/>
<circle cx="161.37" cy="761.46" r="4.2" fill="#ff0000"/>
<circle cx="175.18" cy="764.92" r="4.2" fill="#ff0000"/>
<circle cx="189.00" cy="776.45" r="4.2" fill="#ff0000"/>
<circle cx="202.82" cy="787.41" r="4.2" fill="#ff0000"/>
<circle cx="216.63" cy="794.37" r="4.2" fill="#ff0000"/>
<circle cx="230.45" cy="801.05" r="4.2" fill="#ff0000"/>
<circle cx="244.27" cy="804.26" r="4.2" fill="#ff0000"/>
<circle cx="258.08" cy="807.75" r="4.2" fill="#ff0000"/>
<circle cx="271.90" cy="810.69" r="4.2" fill="#ff0000"/>
<text x="100.30" y="890.90" font-size="13.12" text-anchor="end" textLength="7.0" lengthAdjust="spacingAndGlyphs">0</text>
<text x="100.30" y="866.23" font-size="13.12" text-anchor="end" textLength="27.8" lengthAdjust="spacingAndGlyphs">2000</text>
<text x="100.30" y="841.57" font-size="13.12" text-anchor="end" textLength="27.8" lengthAdjust="spacingAndGlyphs">4000</text>
<text x="100.30" y="816.90" font-size="13.12" text-anchor="end" textLength="27.8" lengthAdjust="spacingAndGlyphs">6000</text>
<text x="100.30" y="792.23" font-size="13.12" text-anchor="end" textLength="27.8" lengthAdjust="spacingAndGlyphs">8000</text>
<text x="100.30" y="767.57" font-size="13.12" text-anchor="end" textLength="34.8" lengthAdjust="spacingAndGlyphs">10000</text>
<text x="100.30" y="742.90" font-size="13.12" text-anchor="end" textLength="34.8" lengthAdjust="spacingAndGlyphs">12000</text>
<text x="106.50" y="902.10" font-size="13.2" text-anchor="middle">0</text>
<text x="161.77" y="902.10" font-size="13.2" text-anchor="middle">20</text>
<text x="217.03" y="902.10" font-size="13.2" text-anchor="middle">40</text>
<text x="272.30" y="902.10" font-size="13.2" text-anchor="middle">60</text>
<text x="188.70" y="916.70" font-size="15.4" text-anchor="middle">Min</text>
<text x="53.30" y="807.60" font-size="14.2" text-anchor="middle" textLength="125.2" lengthAdjust="spacingAndGlyphs" transform="rotate(-90 53.30 807.60)">Photon counts (cps)</text>
<line x1="142.20" y1="705.00" x2="168.10" y2="705.00" stroke="#00b0f0" stroke-width="2.2"/>
<circle cx="154.20" cy="705.00" r="4.2" fill="#00b0f0"/>
<text x="178.30" y="709.30" font-size="10.6" text-anchor="start" textLength="42.0" lengthAdjust="spacingAndGlyphs">No PGE2</text>
<line x1="142.20" y1="724.20" x2="168.10" y2="724.20" stroke="#ff0000" stroke-width="2.2"/>
<circle cx="154.20" cy="724.20" r="4.2" fill="#ff0000"/>
<text x="178.30" y="728.80" font-size="10.6" text-anchor="start" textLength="52.1" lengthAdjust="spacingAndGlyphs">1 μM PGE2</text>
<text x="8.30" y="721.00" font-size="18" text-anchor="start" font-weight="bold">i</text>
</svg>
</body></html>
